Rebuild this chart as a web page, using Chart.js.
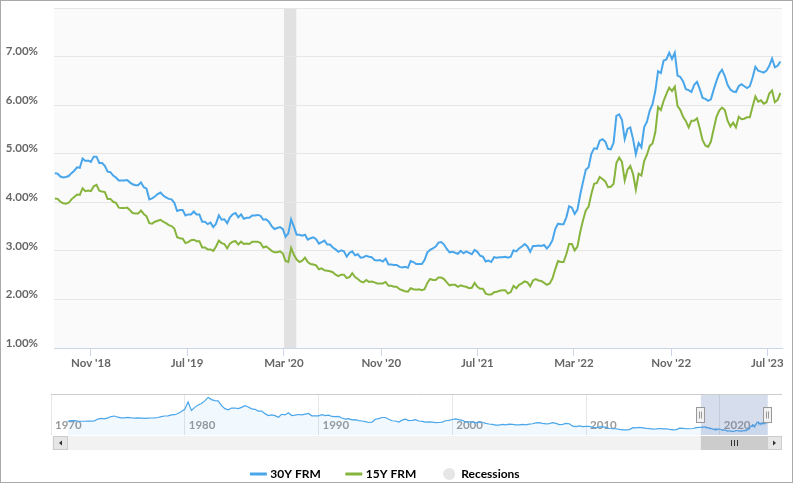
<!DOCTYPE html>
<html><head><meta charset="utf-8">
<script src="https://cdn.jsdelivr.net/npm/chart.js@4/dist/chart.umd.min.js"></script>
<style>
html,body{margin:0;padding:0;background:#fff;}
#wrap{position:relative;width:793px;height:483px;overflow:hidden;background:#fff;}
#main{position:absolute;left:0;top:0;}
#nav{position:absolute;left:0;top:380px;}
#frame{position:absolute;left:0;top:0;width:793px;height:483px;box-sizing:border-box;border:1px solid #aaaaaa;pointer-events:none;}
</style></head><body>
<div id="wrap">
<canvas id="main" width="793" height="380"></canvas>
<canvas id="nav" width="793" height="110"></canvas>
<div id="frame"></div>
</div>
<script>
// ---------- data ----------
const weekStart = '2018-08-02';
const rate30Y = [
 4.60,4.59,4.53,4.51,4.52, 4.54,4.60,4.65,4.72, 4.71,4.90,4.85,4.86, 4.83,4.94,4.94,4.81,4.81, 4.75,4.63,4.62,4.55,
 4.51,4.45,4.45,4.45,4.46, 4.41,4.37,4.35,4.35, 4.41,4.31,4.28,4.06, 4.08,4.12,4.17,4.20, 4.14,4.10,4.07,4.06,3.99,
 3.82,3.84,3.84,3.73, 3.75,3.75,3.81,3.75, 3.75,3.60,3.60,3.55,3.58, 3.49,3.56,3.73,3.64, 3.65,3.57,3.69,3.75,3.78,
 3.69,3.75,3.66,3.68, 3.68,3.73,3.73,3.74,
 3.72,3.64,3.65,3.60,3.51, 3.45,3.47,3.49,3.45, 3.29,3.36,3.65,3.50, 3.33,3.33,3.31,3.33,3.23, 3.26,3.28,3.24,3.15,
 3.18,3.21,3.13,3.13, 3.07,3.03,2.98,3.01,2.99, 2.88,2.96,2.99,2.91, 2.93,2.86,2.87,2.90, 2.88,2.87,2.81,2.80,2.81,
 2.78,2.84,2.72,2.72, 2.71,2.71,2.67,2.66,2.67,
 2.65,2.79,2.77,2.73, 2.73,2.73,2.81,2.97, 3.02,3.05,3.09,3.17, 3.18,3.13,3.04,2.97,2.98, 2.96,2.94,3.00,2.95,
 2.99,2.96,2.93,3.02, 2.98,2.90,2.88,2.78,2.80, 2.77,2.87,2.86,2.87, 2.87,2.88,2.86,2.88,3.01, 2.99,3.05,3.09,3.14,
 3.09,2.98,3.10,3.10, 3.11,3.10,3.12,3.05,3.11,
 3.22,3.45,3.56,3.55, 3.55,3.69,3.92,3.89, 3.76,3.85,4.16,4.42,4.67, 4.72,5.00,5.11,5.10, 5.27,5.30,5.25,5.10,
 5.09,5.23,5.78,5.81,5.70, 5.30,5.51,5.54,5.30, 4.99,5.22,5.13,5.55, 5.66,5.89,6.02,6.29,6.70, 6.66,6.92,6.94,7.08,
 6.95,7.08,6.61,6.58, 6.49,6.33,6.31,6.27,6.42,
 6.48,6.33,6.15,6.13, 6.09,6.12,6.32,6.50, 6.65,6.73,6.60,6.42,6.32, 6.28,6.27,6.39,6.43, 6.39,6.35,6.39,6.57,
 6.79,6.71,6.69,6.67,6.71, 6.81,6.96,6.78,6.81, 6.90
];
const rate15Y = [
 4.08,4.07,4.01,3.98,3.97, 3.99,4.06,4.11,4.16, 4.15,4.29,4.23,4.24, 4.23,4.33,4.36,4.24,4.22, 4.21,4.07,4.07,4.01,
 3.99,3.89,3.88,3.88,3.89, 3.84,3.78,3.77,3.77, 3.83,3.76,3.71,3.57, 3.56,3.60,3.62,3.64, 3.60,3.57,3.53,3.51,3.46,
 3.28,3.26,3.25,3.16, 3.18,3.22,3.23,3.20, 3.20,3.07,3.07,3.03,3.03, 3.00,3.09,3.21,3.16, 3.14,3.05,3.15,3.19,3.20,
 3.13,3.19,3.14,3.15, 3.14,3.19,3.19,3.19,
 3.16,3.07,3.09,3.05,3.00, 2.97,2.97,2.99,2.95, 2.79,2.77,3.06,2.92, 2.82,2.77,2.80,2.86,2.77, 2.73,2.72,2.70,2.62,
 2.64,2.60,2.59,2.58, 2.56,2.51,2.48,2.51,2.51, 2.44,2.46,2.54,2.46, 2.42,2.37,2.35,2.40, 2.36,2.37,2.35,2.33,2.33,
 2.33,2.36,2.28,2.28, 2.26,2.26,2.21,2.19,2.17,
 2.16,2.23,2.21,2.20, 2.21,2.19,2.21,2.34, 2.42,2.40,2.40,2.45, 2.45,2.42,2.35,2.29,2.30, 2.30,2.26,2.29,2.27,
 2.26,2.23,2.24,2.34, 2.26,2.22,2.22,2.12,2.10, 2.10,2.15,2.16,2.18, 2.19,2.19,2.12,2.15,2.28, 2.23,2.30,2.33,2.37,
 2.35,2.27,2.39,2.42, 2.39,2.38,2.34,2.30,2.33,
 2.43,2.62,2.79,2.77, 2.77,2.93,3.14,3.14, 3.01,3.09,3.39,3.63,3.83, 3.91,4.17,4.38,4.40, 4.52,4.48,4.43,4.31,
 4.32,4.38,4.81,4.92,4.83, 4.45,4.67,4.75,4.58, 4.26,4.59,4.55,4.85, 4.98,5.16,5.21,5.44,5.96, 5.90,6.09,6.23,6.36,
 6.29,6.38,5.98,5.90, 5.76,5.67,5.54,5.68,5.68,
 5.73,5.52,5.28,5.17, 5.14,5.25,5.51,5.76, 5.89,5.95,5.90,5.68,5.56, 5.64,5.54,5.76,5.71, 5.72,5.75,5.75,5.97,
 6.18,6.07,6.10,6.03,6.06, 6.24,6.30,6.06,6.11, 6.25
];
const seriesNames = ['30Y FRM', '15Y FRM'];
const recessionLabel = 'Recessions';
const recessionStart = '2020-03-01';
const recessionEnd = '2020-04-01';
const xRange = ['2018-07-31', '2023-08-07'];
const xTickDates = ['2018-11-01','2019-07-01','2020-03-01','2020-11-01','2021-07-01','2022-03-01','2022-11-01','2023-07-01'];
const xTickLabels = ["Nov '18","Jul '19","Mar '20","Nov '20","Jul '21","Mar '22","Nov '22","Jul '23"];
const yTickValues = [1,2,3,4,5,6,7,8];
const yTickLabels = ['1.00%','2.00%','3.00%','4.00%','5.00%','6.00%','7.00%',''];

// navigator: quarterly 30Y history (Jan/Apr/Jul/Oct) from Apr 1971 up to Jul 2018
const historyStart = '1971-04-01';
const history30Y = [
 7.33,7.65,7.63,
 7.44,7.38,7.38,7.43, 7.44,7.54,8.39,8.67, 8.48,8.96,9.55,9.80, 9.25,8.92,8.96,9.20,
 8.90,8.80,8.98,8.86, 8.72,8.81,8.87,8.94, 9.10,9.48,9.80,9.88, 10.30,10.40,10.95,11.90,
 12.90,16.30,12.40,13.80, 14.90,15.60,16.80,18.40, 17.40,16.90,16.80,14.60, 13.20,12.70,13.50,13.50,
 13.20,13.80,14.60,14.00, 13.10,12.90,12.10,12.10, 10.90,10.00,10.30,9.97, 9.20,10.60,10.30,11.30,
 10.00,10.20,10.50,10.30, 10.70,11.00,9.90,9.90, 9.90,10.40,10.00,10.20, 9.60,9.50,9.60,8.90,
 8.40,8.60,8.00,8.10, 7.70,7.50,7.20,6.80, 7.00,8.30,8.60,9.10, 9.10,8.30,7.60,7.50,
 7.00,7.90,8.30,7.70, 7.80,8.10,7.50,7.30, 6.95,7.10,6.95,6.70, 6.80,7.00,7.60,7.80,
 8.20,8.50,8.10,7.80, 7.00,7.10,7.10,6.60, 7.00,6.90,6.40,6.10, 5.90,5.60,5.60,5.90,
 5.70,6.00,5.90,5.70, 5.70,5.90,5.70,6.00, 6.20,6.60,6.70,6.40, 6.20,6.30,6.70,6.40,
 5.80,5.90,6.40,6.20, 5.10,4.90,5.20,4.90, 5.00,5.00,4.60,4.30, 4.80,4.80,4.50,4.00,
 3.90,3.90,3.60,3.40, 3.40,3.50,4.40,4.30, 4.50,4.30,4.10,4.00, 3.70,3.80,4.00,3.80,
 3.90,3.60,3.40,3.50, 4.20,4.10,3.90,3.90, 4.00,4.40,4.55
];
const navRange = ['1970-01-01', '2024-08-25'];
const navYRange = [1, 20];
const navTickDates = ['1970-01-01','1980-01-01','1990-01-01','2000-01-01','2010-01-01','2020-01-01'];
const navTickLabels = ['1970','1980','1990','2000','2010','2020'];

// ---------- helpers ----------
const C30 = '#4aa6ea', C15 = '#87b43d';
const DAY = 864e5;
function utc(s){ const p = s.split('-').map(Number); return Date.UTC(p[0], p[1]-1, p[2]); }
const weekDates = rate30Y.map((_, i) => utc(weekStart) + i * 7 * DAY);
const pts30 = rate30Y.map((v, i) => ({x: weekDates[i], y: v}));
const pts15 = rate15Y.map((v, i) => ({x: weekDates[i], y: v}));
const hs = historyStart.split('-').map(Number);
const histPts = history30Y.map((v, i) => ({x: Date.UTC(hs[0], hs[1]-1 + 3*i, 1), y: v}));
const navPts = histPts.concat(pts30);

Chart.defaults.font.family = 'Lato, "Open Sans", sans-serif';
const LEGEND_SHIFT = -5;

const mainBg = {
  id: 'mainBg',
  beforeDraw(chart){
    const {ctx, chartArea: a, scales: {x}} = chart;
    ctx.save();
    ctx.fillStyle = '#fafafa';
    ctx.fillRect(a.left, a.top, a.width, a.height);
    const r0 = x.getPixelForValue(utc(recessionStart)), r1 = x.getPixelForValue(utc(recessionEnd));
    ctx.fillStyle = '#e1e1e1';
    ctx.fillRect(r0, a.top, r1 - r0, a.height);
    ctx.restore();
  }
};

new Chart(document.getElementById('main'), {
  type: 'line',
  data: { datasets: [
    {label: seriesNames[0], data: pts30, borderColor: C30, borderWidth: 2, pointRadius: 0, tension: 0, fill: false},
    {label: seriesNames[1], data: pts15, borderColor: C15, borderWidth: 2, pointRadius: 0, tension: 0, fill: false}
  ]},
  options: {
    responsive: false, animation: false, events: [],
    layout: {padding: {top: 8, right: 11, bottom: 0, left: 0}},
    plugins: {legend: {display: false}, tooltip: {enabled: false}},
    scales: {
      x: {
        type: 'linear', min: utc(xRange[0]), max: utc(xRange[1]),
        afterBuildTicks: s => { s.ticks = xTickDates.map(d => ({value: utc(d)})); },
        afterFit: s => { s.height = 32; },
        grid: {display: true, drawOnChartArea: false, drawTicks: true, tickLength: 8, color: '#ccd6eb'},
        border: {display: true, color: '#ccd6eb'},
        ticks: {autoSkip: false, maxRotation: 0, padding: 0, color: '#666666',
          font: {size: 11.5, weight: 'bold'}, callback: (v, i) => xTickLabels[i]}
      },
      y: {
        type: 'linear', min: 1, max: 8,
        afterBuildTicks: s => { s.ticks = yTickValues.map(v => ({value: v})); },
        afterFit: s => { s.width = 54; },
        grid: {color: '#e6e6e6', drawTicks: true, tickLength: 16, tickColor: 'rgba(0,0,0,0)'},
        border: {display: false},
        ticks: {padding: 0, labelOffset: -5, color: '#666666',
          font: {size: 11.5, weight: 'bold'}, callback: (v, i) => yTickLabels[i]}
      }
    }
  },
  plugins: [mainBg]
});

// legend dot for recessions
const dot = document.createElement('canvas');
dot.width = 12; dot.height = 12;
const dctx = dot.getContext('2d');
dctx.fillStyle = '#e6e6e6'; dctx.beginPath(); dctx.arc(6, 6, 6, 0, Math.PI * 2); dctx.fill();

const navDecor = {
  id: 'navDecor',
  afterLayout(chart){
    if (chart.legend) { chart.legend.left += LEGEND_SHIFT; chart.legend.right += LEGEND_SHIFT; }
  },
  afterDatasetsDraw(chart){
    const {ctx, chartArea: a, scales: {x}} = chart;
    const s0 = x.getPixelForValue(weekDates[0]);
    const s1 = x.getPixelForValue(weekDates[weekDates.length - 1]);
    ctx.save();
    // mask
    ctx.fillStyle = 'rgba(102,133,194,0.27)';
    ctx.fillRect(s0, a.top, s1 - s0, a.bottom - a.top);
    // outline
    ctx.strokeStyle = '#cccccc'; ctx.lineWidth = 1;
    ctx.beginPath(); ctx.moveTo(a.left, a.top + 0.5); ctx.lineTo(a.right, a.top + 0.5); ctx.stroke();
    // scrollbar
    const sy = Math.round(a.bottom) + 1, sh = 14;
    ctx.fillStyle = '#f2f2f2';
    ctx.fillRect(a.left + 1.5, sy, a.right - a.left - 1.5, sh);
    ctx.fillStyle = '#cccccc';
    ctx.fillRect(s0, sy, s1 - s0, sh);
    const c = Math.round((s0 + s1) / 2) + 0.5;
    ctx.strokeStyle = '#333333';
    ctx.beginPath();
    [-3, 0, 3].forEach(d => { ctx.moveTo(c + d, sy + 4); ctx.lineTo(c + d, sy + 10); });
    ctx.stroke();
    // buttons
    const btn = (bx, dir) => {
      ctx.fillStyle = '#e6e6e6'; ctx.strokeStyle = '#cccccc';
      ctx.fillRect(bx, sy + 0.5, 14, sh - 1); ctx.strokeRect(bx, sy + 0.5, 14, sh - 1);
      ctx.fillStyle = '#333333'; ctx.beginPath();
      const cx = bx + 7, cy = sy + 7;
      ctx.moveTo(cx + 1.5 * dir, cy); ctx.lineTo(cx - 1.5 * dir, cy - 2.5); ctx.lineTo(cx - 1.5 * dir, cy + 2.5);
      ctx.closePath(); ctx.fill();
    };
    btn(a.left + 2.5, -1);
    btn(a.right - 14.5, 1);
    // handles
    ctx.lineWidth = 1;
    [s0, s1].forEach(px => {
      const hx = Math.round(px) - 4.5, hy = Math.round((a.top + a.bottom) / 2) - 7.5;
      ctx.fillStyle = '#f2f2f2'; ctx.strokeStyle = '#999999';
      ctx.fillRect(hx, hy, 8, 15); ctx.strokeRect(hx, hy, 8, 15);
      ctx.beginPath();
      ctx.moveTo(hx + 3, hy + 4); ctx.lineTo(hx + 3, hy + 11);
      ctx.moveTo(hx + 5, hy + 4); ctx.lineTo(hx + 5, hy + 11);
      ctx.stroke();
    });
    ctx.restore();
  }
};

new Chart(document.getElementById('nav'), {
  type: 'line',
  data: { datasets: [
    {label: seriesNames[0], data: navPts, borderColor: C30, borderWidth: 1.2, pointRadius: 0, tension: 0,
     fill: 'start', backgroundColor: 'rgba(74,166,234,0.07)'}
  ]},
  options: {
    responsive: false, animation: false, events: [],
    layout: {padding: {top: 14, right: 11, bottom: 2, left: 0}},
    plugins: {
      tooltip: {enabled: false},
      legend: {
        display: true, position: 'bottom', align: 'center',
        labels: {
          usePointStyle: true, padding: 27, color: '#333333', font: {size: 12, weight: 'bold'},
          generateLabels: () => [
            {text: seriesNames[0], fillStyle: C30, strokeStyle: C30, lineWidth: 3, pointStyle: 'line', hidden: false, datasetIndex: 0},
            {text: seriesNames[1], fillStyle: C15, strokeStyle: C15, lineWidth: 3, pointStyle: 'line', hidden: false},
            {text: recessionLabel, fillStyle: '#e6e6e6', strokeStyle: '#e6e6e6', lineWidth: 0, pointStyle: dot, hidden: false}
          ]
        }
      }
    },
    scales: {
      x: {
        type: 'linear', min: utc(navRange[0]), max: utc(navRange[1]),
        afterBuildTicks: s => { s.ticks = navTickDates.map(d => ({value: utc(d)})); },
        afterFit: s => { s.height = 6; },
        grid: {color: '#e6e6e6', drawTicks: false},
        border: {display: false},
        ticks: {mirror: true, align: 'start', labelOffset: 4, padding: 3, color: '#999999', autoSkip: false, maxRotation: 0,
          font: {size: 11.5, weight: 'bold'}, callback: (v, i) => navTickLabels[i]}
      },
      y: {
        type: 'linear', min: navYRange[0], max: navYRange[1],
        afterFit: s => { s.width = 51; },
        grid: {display: false}, ticks: {display: false}, border: {display: false}
      }
    }
  },
  plugins: [navDecor]
});
</script>
</body></html>
